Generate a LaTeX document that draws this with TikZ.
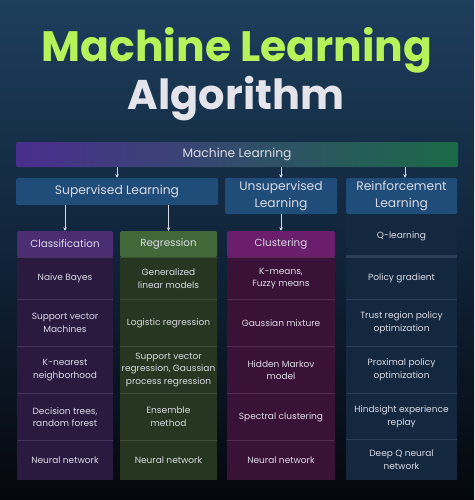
\documentclass[tikz,border=0pt]{standalone}
\usepackage{fontspec}
\setmainfont{Poppins}
\usetikzlibrary{arrows.meta}
\definecolor{bgtop}{HTML}{1D3E5C}
\definecolor{bgmid}{HTML}{10243A}
\definecolor{bgbot}{HTML}{05070C}
\definecolor{lime}{HTML}{B6F25A}
\definecolor{ttl}{HTML}{E4E4EA}
\definecolor{txt}{HTML}{DADAE4}
\definecolor{blueb}{HTML}{1F4C78}
\definecolor{mlleft}{HTML}{4A2E8E}
\definecolor{mlright}{HTML}{1B6A48}
\definecolor{clsh}{HTML}{4B2D74}
\definecolor{clsb}{HTML}{2B1A40}
\definecolor{clss}{HTML}{45335E}
\definecolor{regh}{HTML}{42683A}
\definecolor{regb}{HTML}{263620}
\definecolor{regs}{HTML}{3B4D33}
\definecolor{cluh}{HTML}{6A1E6B}
\definecolor{club}{HTML}{3A1238}
\definecolor{clus}{HTML}{552A52}
\definecolor{reib}{HTML}{13283F}
\definecolor{reis}{HTML}{2A3F57}
\tikzset{
  boxbase/.style={inner sep=0pt, text=txt, align=center, rounded corners=1.5pt},
  catbox/.style={boxbase, fill=blueb, font=\fontsize{12.3}{16.5}\selectfont},
  headbox/.style={boxbase, font=\fontsize{10.3}{13}\selectfont},
  cellbox/.style={boxbase, rounded corners=0pt, font=\fontsize{9}{12.7}\selectfont},
  arr/.style={draw=txt, line width=0.8pt, -{Stealth[length=3.5pt,width=3.5pt]}}
}
\begin{document}
\begin{tikzpicture}[x=1pt,y=-1pt]
\useasboundingbox (0,0) rectangle (474,500);
\shade[top color=bgtop, bottom color=bgbot, middle color=bgmid] (0,0) rectangle (474,500);
% titles
\node[anchor=base, text=lime, font=\fontsize{42.5}{46}\bfseries\selectfont, inner sep=0pt] (t1) at (237,62) {Machine Learning};
\node[anchor=base, text=ttl, font=\fontsize{41.5}{46}\bfseries\selectfont, inner sep=0pt] (t2) at (236,110) {Algorithm};
% top bar
\node[boxbase, left color=mlleft, right color=mlright, minimum width=442pt, minimum height=25pt, font=\fontsize{12.3}{15}\selectfont] (ml) at (237,154.5) {Machine Learning};
% categories
\node[catbox, minimum width=202pt, minimum height=27pt] (sup) at (117,191.5) {Supervised Learning};
\node[catbox, minimum width=112pt, minimum height=36pt] (uns) at (281,196) {Unsupervised\\Learning};
\node[catbox, minimum width=111pt, minimum height=36pt] (rei) at (401.5,196) {Reinforcement\\Learning};
% column separators backgrounds
\fill[clss] (17,257) rectangle (113,480);
\fill[regs] (120,257) rectangle (217,480);
\fill[clus] (227,257) rectangle (335,480);
\fill[reis] (346,217) rectangle (457,480);
% headers
\node[headbox, fill=clsh, minimum width=96pt, minimum height=26pt] (cls) at (65,244) {Classification};
\node[headbox, fill=regh, minimum width=97pt, minimum height=26pt] (reg) at (168.5,244) {Regression};
\node[headbox, fill=cluh, minimum width=108pt, minimum height=26pt] (clu) at (281,244) {Clustering};
% Classification cells
\node[cellbox, fill=clsb, minimum width=96pt, minimum height=41pt] (c1) at (65,278.5) {Naive Bayes};
\node[cellbox, fill=clsb, minimum width=96pt, minimum height=46pt] (c2) at (65,323) {Support vector\\Machines};
\node[cellbox, fill=clsb, minimum width=96pt, minimum height=46pt] (c3) at (65,370) {K-nearest\\neighborhood};
\node[cellbox, fill=clsb, minimum width=96pt, minimum height=46pt] (c4) at (65,417) {Decision trees,\\random forest};
\node[cellbox, fill=clsb, minimum width=96pt, minimum height=39pt] (c5) at (65,460.5) {Neural network};
% Regression cells
\node[cellbox, fill=regb, minimum width=97pt, minimum height=41pt] (g1) at (168.5,278.5) {Generalized\\linear models};
\node[cellbox, fill=regb, minimum width=97pt, minimum height=46pt] (g2) at (168.5,323) {Logistic regression};
\node[cellbox, fill=regb, minimum width=97pt, minimum height=46pt] (g3) at (168.5,370) {Support vector\\regression, Gaussian\\process regression};
\node[cellbox, fill=regb, minimum width=97pt, minimum height=46pt] (g4) at (168.5,417) {Ensemble\\method};
\node[cellbox, fill=regb, minimum width=97pt, minimum height=39pt] (g5) at (168.5,460.5) {Neural network};
% Clustering cells
\node[cellbox, fill=club, minimum width=108pt, minimum height=41pt] (k1) at (281,278.5) {K-means,\\Fuzzy means};
\node[cellbox, fill=club, minimum width=108pt, minimum height=46pt] (k2) at (281,323) {Gaussian mixture};
\node[cellbox, fill=club, minimum width=108pt, minimum height=46pt] (k3) at (281,370) {Hidden Markov\\model};
\node[cellbox, fill=club, minimum width=108pt, minimum height=46pt] (k4) at (281,417) {Spectral clustering};
\node[cellbox, fill=club, minimum width=108pt, minimum height=39pt] (k5) at (281,460.5) {Neural network};
% Reinforcement cells
\node[cellbox, fill=reib, minimum width=111pt, minimum height=38pt] (r0) at (401.5,236) {Q-learning};
\node[cellbox, fill=reib, minimum width=111pt, minimum height=41pt] (r1) at (401.5,278.5) {Policy gradient};
\node[cellbox, fill=reib, minimum width=111pt, minimum height=46pt] (r2) at (401.5,323) {Trust region policy\\optimization};
\node[cellbox, fill=reib, minimum width=111pt, minimum height=46pt] (r3) at (401.5,370) {Proximal policy\\optimization};
\node[cellbox, fill=reib, minimum width=111pt, minimum height=45pt] (r4) at (401.5,416.5) {Hindsight experience\\replay};
\node[cellbox, fill=reib, minimum width=111pt, minimum height=40pt] (r5) at (401.5,460) {Deep Q neural\\network};
% arrows
\draw[arr] (ml.south -| sup.north) -- (sup.north);
\draw[arr] (ml.south -| uns.north) -- (uns.north);
\draw[arr] ([xshift=3.5pt]ml.south -| rei.north) -- ([xshift=3.5pt]rei.north);
\draw[arr] (sup.south -| cls.north) -- (cls.north);
\draw[arr] (sup.south -| reg.north) -- (reg.north);
\draw[arr] (uns.south) -- (clu.north);
\end{tikzpicture}
\end{document}
